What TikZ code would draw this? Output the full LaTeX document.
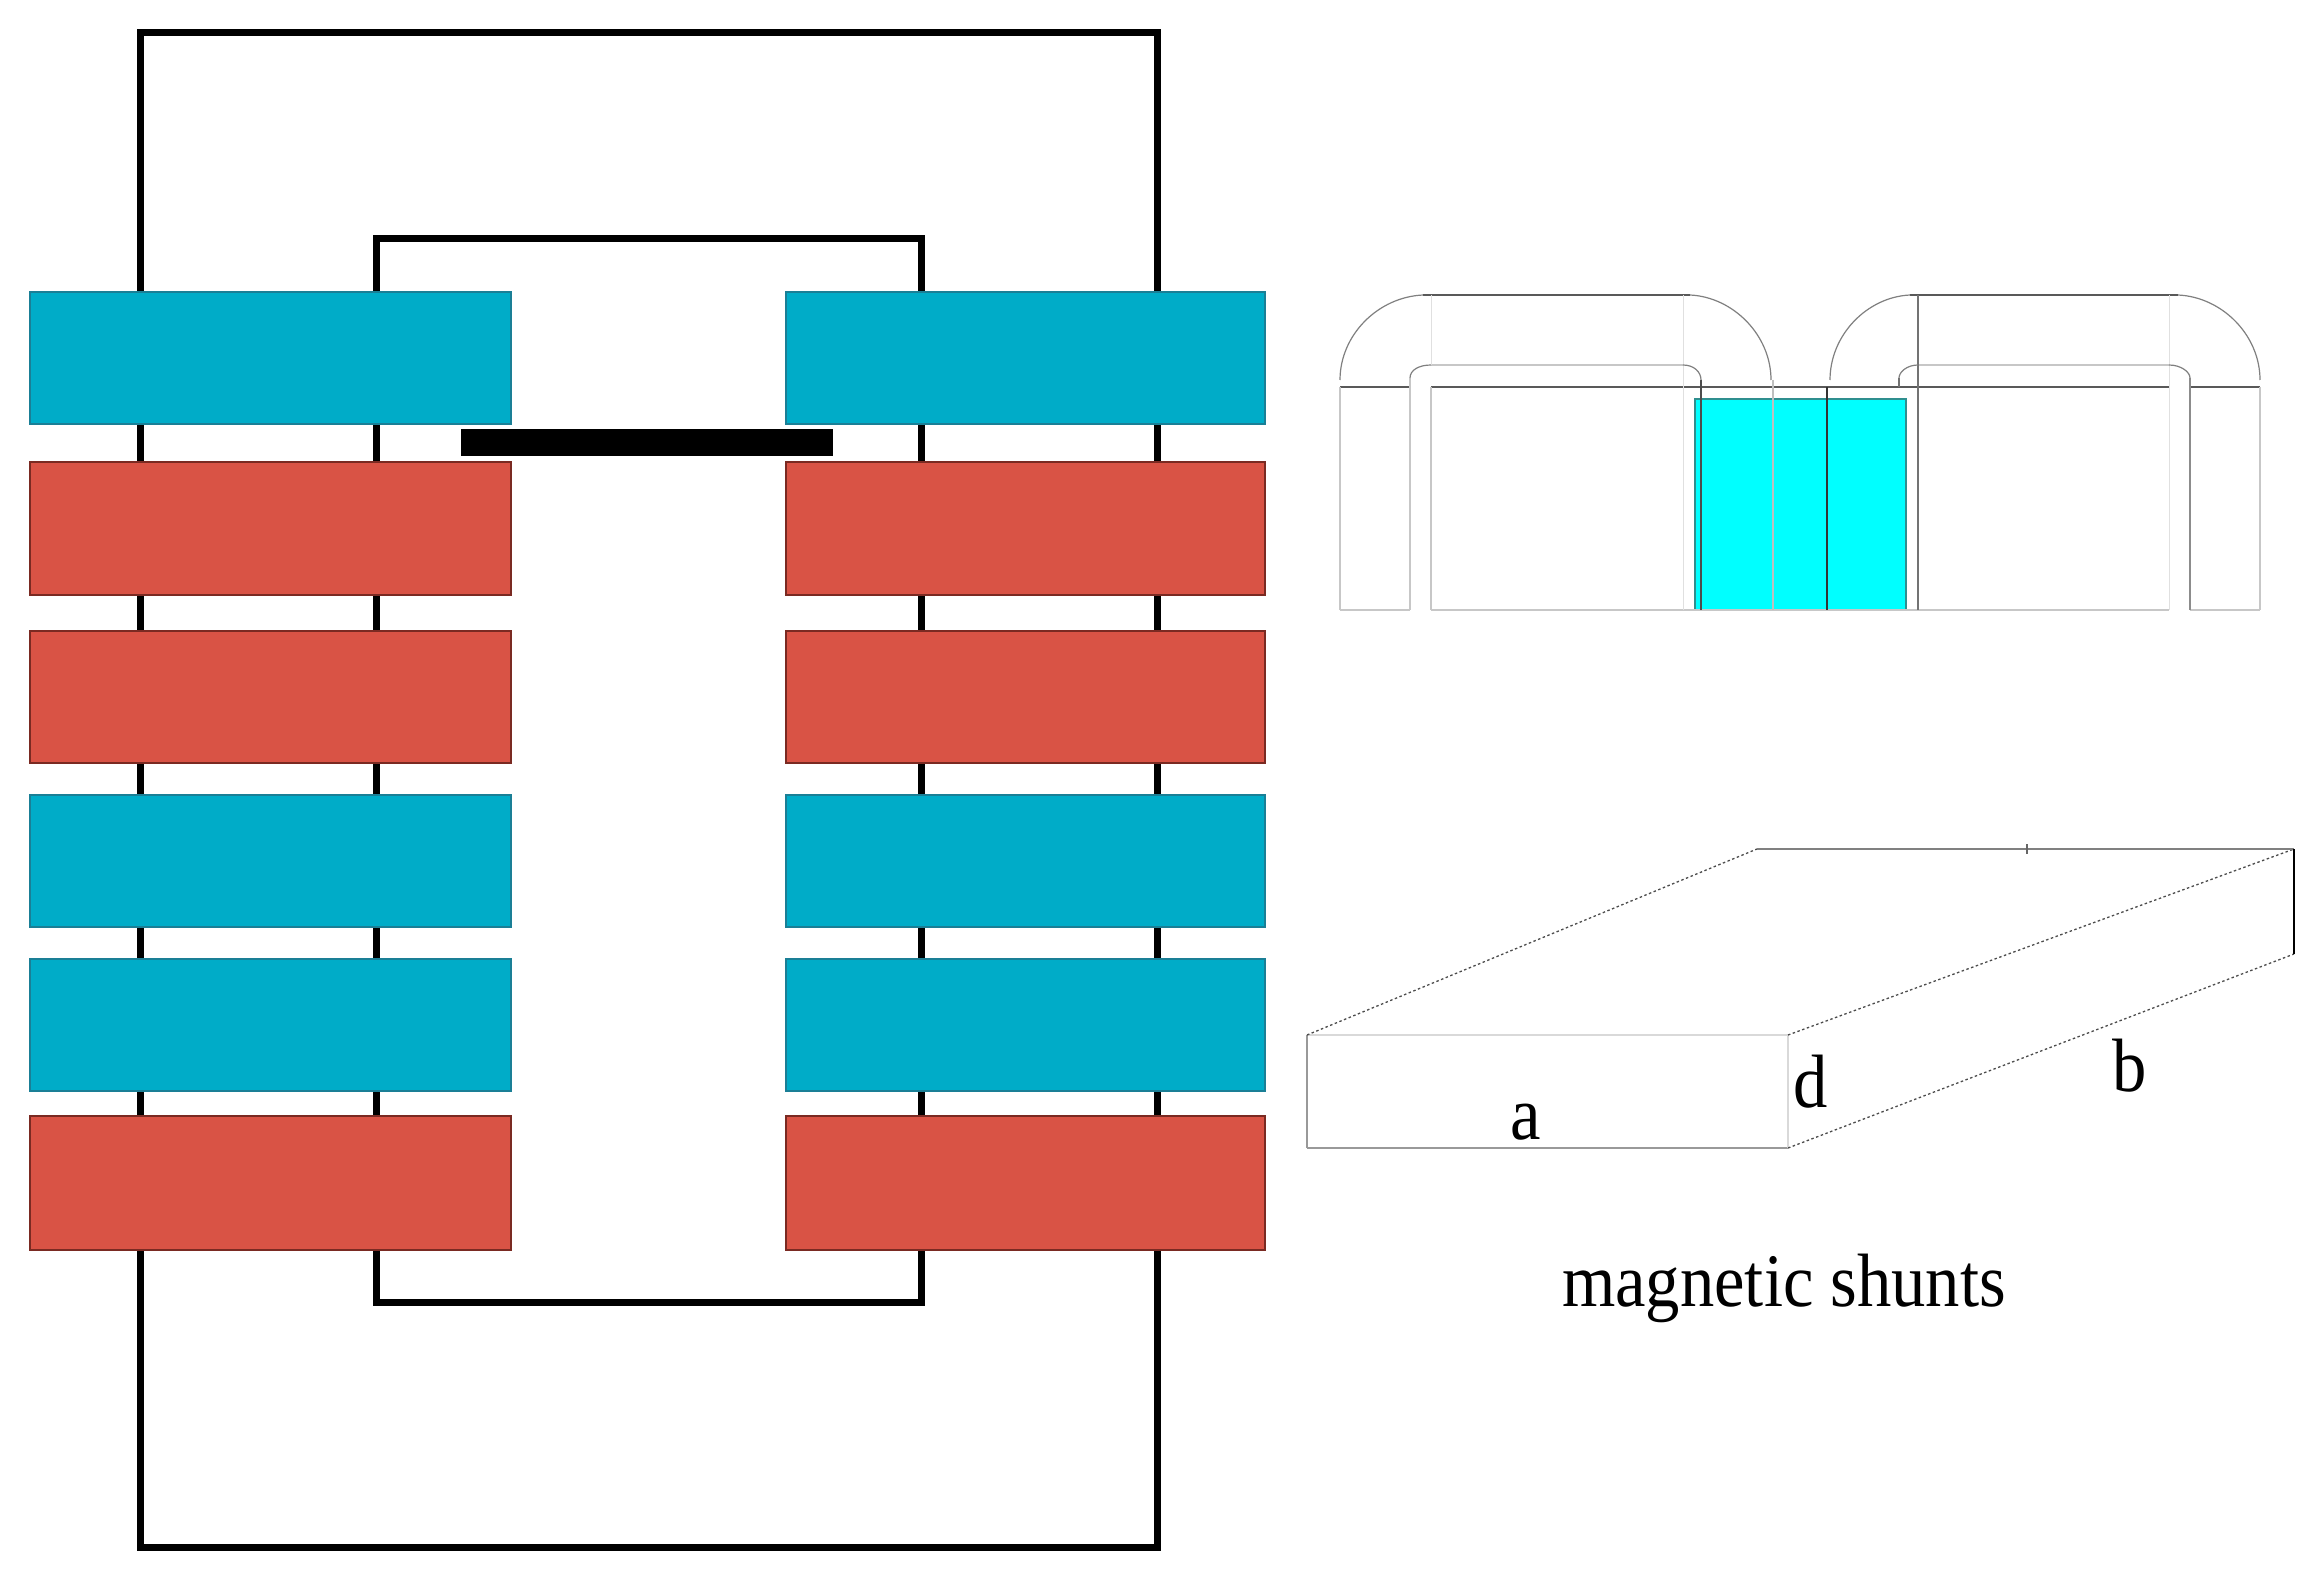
\documentclass[tikz,border=0pt]{standalone}
\usepackage{fontspec}
\setmainfont{Liberation Serif}
\definecolor{coilblue}{HTML}{00ACC8}
\definecolor{coilred}{HTML}{D95345}
\definecolor{blueedge}{HTML}{1A7F96}
\definecolor{rededge}{HTML}{7A2A22}
\definecolor{shunt}{HTML}{00FFFF}
\definecolor{shuntedge}{HTML}{2F8F8F}
\tikzset{
  core/.style={draw=black,line width=7pt,miter limit=10},
  bluecoil/.style={fill=coilblue,draw=blueedge,line width=2pt},
  redcoil/.style={fill=coilred,draw=rededge,line width=2pt},
  darkline/.style={draw=black!65,line width=2.6pt},
  midline/.style={draw=black!55,line width=1.6pt},
  lightline/.style={draw=black!22,line width=2pt},
  faintline/.style={draw=black!12,line width=1pt},
  arcline/.style={draw=black!50,line width=1.2pt},
  dotline/.style={draw=black!70,line width=1.3pt,dash pattern=on 2.5pt off 2.5pt},
  label/.style={inner sep=0pt,font=\fontsize{70}{70}\selectfont,text=black,yscale=1.08,xscale=0.98}
}
\newcommand{\coilrow}[3]{%
  \draw[#1] (30,#2) rectangle (511,#3);
  \draw[#1] (786,#2) rectangle (1265,#3);
}
\begin{document}
\begin{tikzpicture}[x=1pt,y=-1pt]
\useasboundingbox (0,0) rectangle (2319,1586);
\fill[white] (0,0) rectangle (2319,1586);
% core
\draw[core] (140,33) rectangle (1157,1547);
\draw[core] (376,239) rectangle (921,1302);
% coils
\coilrow{bluecoil}{292}{424}
\coilrow{redcoil}{462}{595}
\coilrow{redcoil}{631}{763}
\coilrow{bluecoil}{795}{927}
\coilrow{bluecoil}{959}{1091}
\coilrow{redcoil}{1116}{1250}
% shunt bar
\fill[black] (461,429) rectangle (833,456);
% top-right section: cyan shunt
\fill[shunt] (1695,399) rectangle (1906,610);
\draw[shuntedge,line width=2.5pt] (1695,610) -- (1695,399) -- (1906,399) -- (1906,610);
% horizontals
\draw[darkline] (1423,295) -- (1690,295);
\draw[darkline] (1910,295) -- (2178,295);
\draw[darkline] (1340,387) -- (1410,387);
\draw[darkline] (1431,387) -- (2169,387);
\draw[darkline] (2190,387) -- (2260,387);
\draw[lightline] (1340,610) -- (1410,610);
\draw[lightline] (1431,610) -- (2169,610);
\draw[lightline] (2190,610) -- (2260,610);
\draw[lightline] (1431,365) -- (1683,365);
\draw[lightline] (1918,365) -- (2169,365);
% verticals
\draw[lightline,line width=1.6pt] (1340,387) -- (1340,610);
\draw[lightline,line width=1.6pt] (1410,378) -- (1410,610);
\draw[lightline,line width=1.6pt] (1431,387) -- (1431,610);
\draw[faintline] (1431,295) -- (1431,365);
\draw[faintline] (1683,295) -- (1683,610);
\draw[midline,draw=black!70] (1701,380) -- (1701,610);
\draw[midline,draw=black!25] (1773,380) -- (1773,610);
\draw[midline,draw=black!80] (1827,387) -- (1827,610);
\draw[midline] (1899,378) -- (1899,387);
\draw[midline] (1918,295) -- (1918,610);
\draw[faintline] (2169,295) -- (2169,610);
\draw[midline,draw=black!45] (2190,378) -- (2190,610);
\draw[lightline,line width=1.6pt] (2260,387) -- (2260,610);
% outer arcs
\draw[arcline] (1340,380) .. controls (1340,335) and (1378,297) .. (1423,295);
\draw[arcline] (1690,295) .. controls (1733,297) and (1771,335) .. (1771,380);
\draw[arcline] (1830,380) .. controls (1830,335) and (1867,297) .. (1910,295);
\draw[arcline] (2178,295) .. controls (2222,297) and (2260,335) .. (2260,380);
% inner arcs
\draw[arcline] (1410,378) .. controls (1410,370) and (1419,365) .. (1431,365);
\draw[arcline] (1683,365) .. controls (1694,365) and (1701,372) .. (1701,380);
\draw[arcline] (1899,378) .. controls (1899,372) and (1907,365) .. (1918,365);
\draw[arcline] (2169,365) .. controls (2181,365) and (2190,372) .. (2190,378);
% 3D shunt block
\draw[lightline,draw=black!15] (1307,1035) -- (1788,1035);
\draw[lightline,draw=black!40] (1307,1148) -- (1788,1148);
\draw[lightline,draw=black!40] (1307,1035) -- (1307,1148);
\draw[lightline,draw=black!15] (1788,1035) -- (1788,1148);
\draw[dotline] (1307,1035) -- (1757,849);
\draw[dotline] (1788,1035) -- (2294,849);
\draw[dotline] (1788,1148) -- (2294,954);
\draw[line width=2pt,draw=black!50] (1757,849) -- (2294,849);
\draw[line width=2.4pt,draw=black] (2294,849) -- (2294,954);
\draw[line width=1.2pt,draw=black!60] (2027,844) -- (2027,854);
% labels
\node[label] (lblA) at (1526,1122) {a};
\node[label] (lblD) at (1811,1082) {d};
\node[label] (lblB) at (2130,1066) {b};
\node[label] (lblShunts) at (1784,1288) {magnetic shunts};
\end{tikzpicture}
\end{document}
